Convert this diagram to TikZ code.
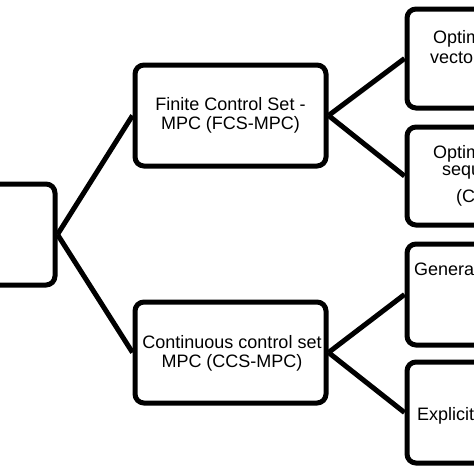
\documentclass[tikz,border=0pt]{standalone}
\usepackage{fontspec}
\setmainfont{Liberation Sans}
\begin{document}
\begin{tikzpicture}[x=1pt,y=-1pt,
  box/.style={draw=black, line width=5pt, rounded corners=9pt, inner sep=0pt, fill=white},
  conn/.style={draw=black, line width=5pt},
  lbl/.style={font=\fontsize{18}{18.5}\selectfont, align=center, text=black},
  frag/.style={font=\fontsize{18}{18.5}\selectfont, anchor=base west, inner sep=0pt, text=black}]
\useasboundingbox[fill=white] (0,0) rectangle (474,474);

% boxes
\node[box, minimum width=155pt, minimum height=101pt] (L) at (-22.5,234.5) {};
\node[box, minimum width=191pt, minimum height=101pt] (F) at (230.5,115.5) {};
\node[box, minimum width=191pt, minimum height=101pt] (C) at (230.5,352.5) {};
\node[box, minimum width=193pt, minimum height=99pt]  (R1) at (503.5,58.5) {};
\node[box, minimum width=193pt, minimum height=98pt]  (R2) at (503.5,176) {};
\node[box, minimum width=193pt, minimum height=101pt] (R3) at (503.5,294.5) {};
\node[box, minimum width=193pt, minimum height=101pt] (R4) at (503.5,412.5) {};

% texts
\node[lbl] (Ft) at (F) {Finite Control Set -\\MPC (FCS-MPC)};
\node[lbl] (Ct) at ([xshift=1.5pt,yshift=-1pt]C) {Continuous control set\\MPC (CCS-MPC)};

\node[frag] (r1a) at (433,43.5) {Optim};
\node[frag] (r1b) at (430,63.5) {vecto};
\node[frag] (r2a) at (433,158.5) {Optim};
\node[frag] (r2b) at (442,175) {sequ};
\node[frag] (r2c) at (456,202) {(C};
\node[frag] (r3a) at (414,275) {Genera};
\node[frag] (r4a) at (417,420.5) {Explicit};

% connectors
\draw[conn] (L.east) -- (F.west);
\draw[conn] (L.east) -- (C.west);
\draw[conn] (F.east) -- (R1.west);
\draw[conn] (F.east) -- (R2.west);
\draw[conn] (C.east) -- (R3.west);
\draw[conn] (C.east) -- (R4.west);
\end{tikzpicture}
\end{document}
